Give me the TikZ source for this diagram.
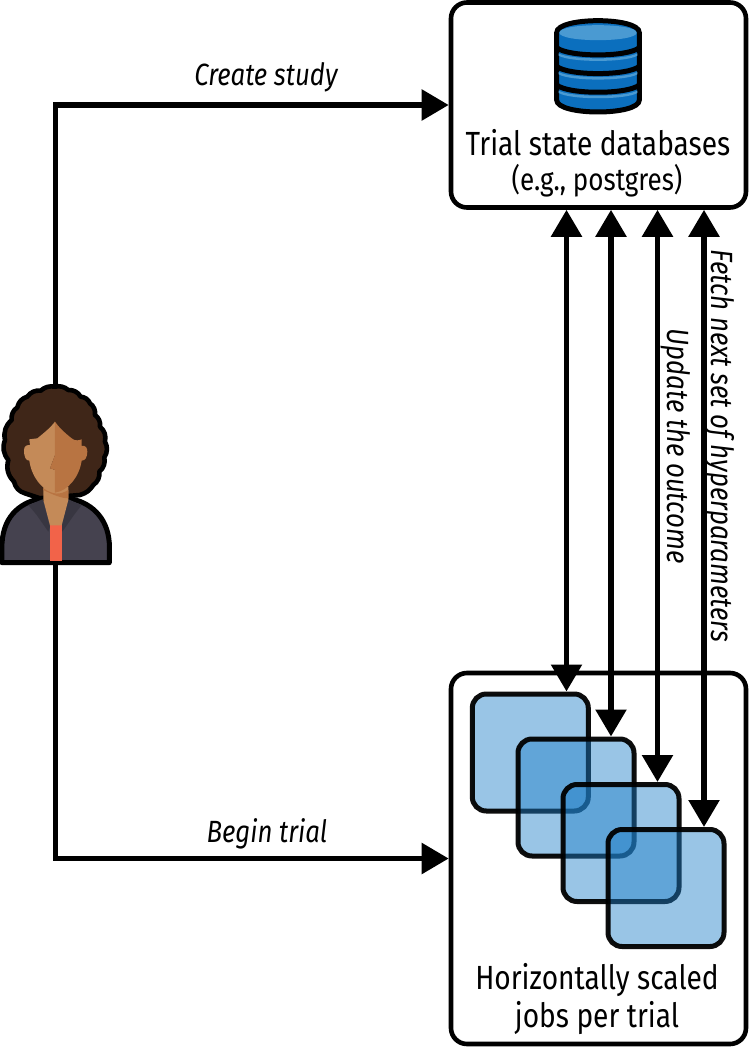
\documentclass[tikz,border=0pt]{standalone}
\usepackage{fontspec}
\setmainfont{Fira Sans}[FakeStretch=0.84]
\usetikzlibrary{arrows.meta,positioning}
\definecolor{sq}{HTML}{1F7FC8}
\definecolor{dbblue}{HTML}{0B6FBE}
\definecolor{dbtop}{HTML}{4A9AD2}
\definecolor{hair}{HTML}{3F2618}
\definecolor{suit}{HTML}{45424F}
\definecolor{suitd}{HTML}{383641}
\definecolor{skinl}{HTML}{C48A58}
\definecolor{skind}{HTML}{B87442}
\definecolor{tie}{HTML}{F26349}
\tikzset{
  x=1pt,y=-1pt,
  box/.style={draw=black,line width=4.6pt,rounded corners=16pt,fill=white,minimum width=295pt,inner sep=0pt},
  job/.style={draw=black,line width=5pt,rounded corners=14pt,fill=sq,fill opacity=.45,draw opacity=.95,minimum width=116pt,minimum height=117pt,inner sep=0pt},
  conn/.style={line width=5.6pt,-{Triangle[length=27pt,width=30pt]}},
  bi/.style={line width=5.6pt,{Triangle[length=27pt,width=30pt]}-{Triangle[length=27pt,width=30pt]}},
  lab/.style={font=\fontsize{33.5}{36}\selectfont,inner sep=0pt},
  ilab/.style={font=\fontsize{30.7}{33}\selectfont\itshape,inner sep=0pt},
  small/.style={font=\fontsize{31}{33}\selectfont,inner sep=0pt},
}
\begin{document}
\begin{tikzpicture}
\useasboundingbox (0,0) rectangle (749,1049);
% boxes
\node[box,minimum height=205pt] (db) at (598.5,105) {};
\node[box,minimum height=371pt] (jobs) at (598.5,858.5) {};
\coordinate (user) at (55.5,475);
% job squares
\node[job] (j1) at (530.3,752.5) {};
\node[job] (j2) at (576,797.5) {};
\node[job] (j3) at (621,843) {};
\node[job] (j4) at (666,888) {};
% left connectors
\draw[conn] (user) |- (db.west);
\draw[conn] (user) |- (jobs.west);
% two-way connectors
\draw[bi] (566.5,0 |- j1.north) -- (566.5,0 |- db.south);
\draw[bi] (611,0 |- j2.north) -- (611,0 |- db.south);
\draw[bi] (657.5,0 |- j3.north) -- (657.5,0 |- db.south);
\draw[bi] (704,0 |- j4.north) -- (704,0 |- db.south);
% database icon
\begin{scope}[shift={(530,0)},x=.3333pt,y=-.3333pt]
 \draw[line width=5pt,fill=dbblue]
   (80,98) .. controls (80,50) and (328,50) .. (328,98) -- (328,300) .. controls (328,348) and (80,348) .. (80,300) -- cycle;
 \fill[dbtop] (88,98) .. controls (88,68) and (320,68) .. (320,98) .. controls (320,128) and (88,128) .. (88,98) -- cycle;
 \foreach \yy in {150,206,262}{
  \fill[dbtop] (86,\yy+10) .. controls (120,\yy+30) and (288,\yy+30) .. (322,\yy+10) -- (322,\yy+17) .. controls (288,\yy+38) and (120,\yy+38) .. (86,\yy+17) -- cycle;
  \draw[line width=5pt] (80,\yy-7) .. controls (115,\yy+22) and (293,\yy+22) .. (328,\yy-7);
 }
\end{scope}
% person
\begin{scope}[shift={(0,370)},x=.3333pt,y=-.3333pt]
 \draw[line width=4.6pt,fill=hair,line join=round]
  (165,50) to[bend left=25] (205,60) to[bend left=30] (242,80) to[bend left=30] (270,100)
  to[bend left=30] (285,135) to[bend left=30] (300,170) to[bend left=30] (315,215)
  to[bend left=30] (313,262) to[bend left=30] (298,305) to[bend left=30] (280,345)
  to[bend left=20] (240,375) -- (120,385) -- (75,370)
  to[bend left=30] (42,335) to[bend left=30] (25,270) to[bend left=30] (15,210)
  to[bend left=30] (35,150) to[bend left=30] (52,112) to[bend left=30] (82,80)
  to[bend left=30] (122,62) to[bend left=25] cycle;
 \draw[line width=5pt,fill=suit,line join=round]
  (6,578) -- (6,520) .. controls (11,430) and (70,395) .. (125,385) -- (205,385)
  .. controls (270,395) and (323,440) .. (328,520) -- (328,578) -- cycle;
 \fill[suitd] (85,405) -- (128,388) -- (150,470) -- (145,485) -- (110,435) -- cycle;
 \fill[suitd] (245,405) -- (205,388) -- (185,470) -- (187,485) -- (222,435) -- cycle;
 \fill[tie] (150,466) rectangle (185,572);
 \fill[skinl] (130,350) -- (205,350) -- (205,390) -- (185,466) -- (150,466) -- (130,390) -- cycle;
 \fill[skind] (130,355) .. controls (160,375) and (180,375) .. (205,360) -- (205,385) .. controls (185,385) and (160,375) .. (130,360) -- cycle;
 \fill[skinl] (72,240) .. controls (72,225) and (85,225) .. (90,225) -- (88,208) -- (112,205) .. controls (130,190) and (150,175) .. (165,155)
  -- (165,255) -- (150,295) -- (165,300) -- (165,368) .. controls (125,362) and (95,320) .. (88,272) .. controls (78,272) and (72,262) .. (72,240) -- cycle;
 \fill[skind] (165,155) .. controls (175,170) and (190,185) .. (215,205) .. controls (225,215) and (240,210) .. (245,208) -- (245,228)
  .. controls (258,225) and (262,235) .. (262,245) .. controls (262,262) and (255,272) .. (245,272) .. controls (238,320) and (205,362) .. (165,368) -- (165,300) -- (150,295) -- (165,255) -- cycle;
\end{scope}
% labels
\node[ilab] (l1) at (266,77.5) {Create study};
\node[ilab] (l2) at (267,833.5) {Begin trial};
\node[lab] (t1) at (598,143) {Trial state databases};
\node[small] (t2) at (597,181) {(e.g., postgres)};
\node[lab] (t3) at (597,980) {Horizontally scaled};
\node[lab] (t4) at (597,1018) {jobs per trial};
\node[ilab,rotate=-90] (l3) at (676,446) {Update the outcome};
\node[ilab,rotate=-90] (l4) at (720,446) {Fetch next set of hyperparameters};
\end{tikzpicture}
\end{document}
